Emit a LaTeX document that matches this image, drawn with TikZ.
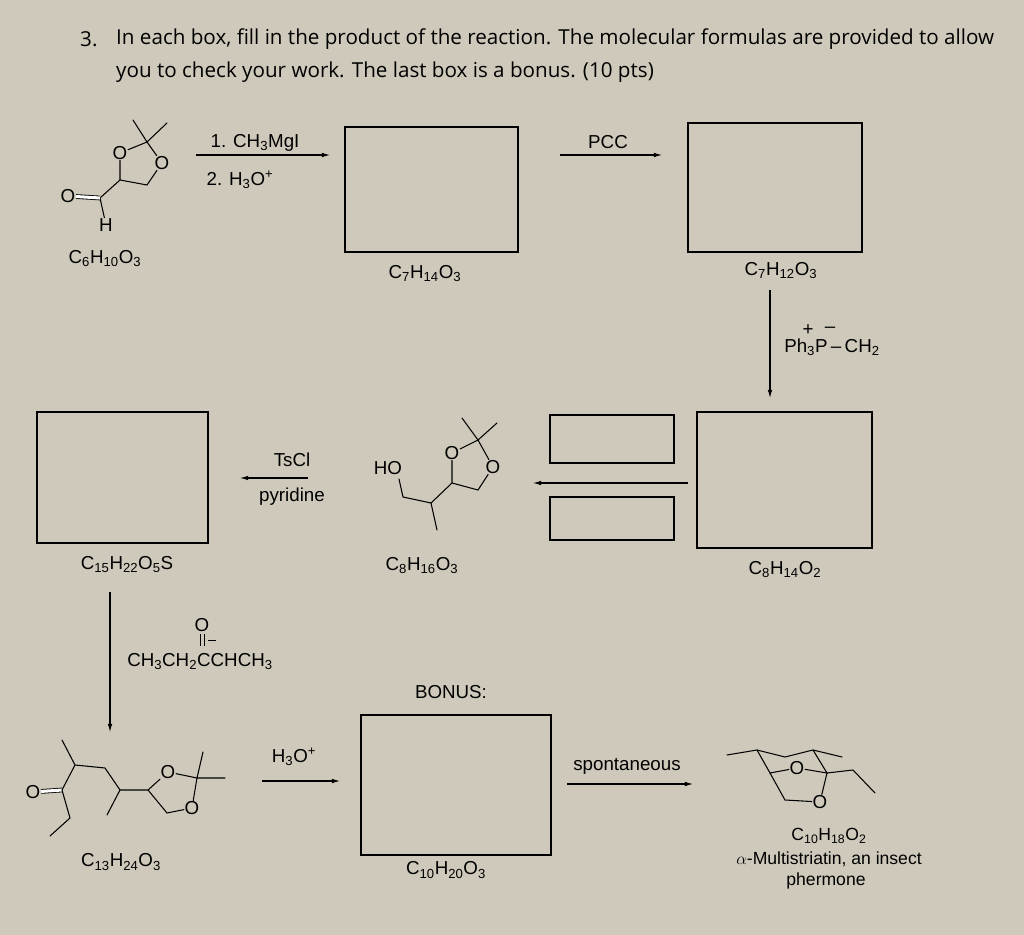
\documentclass[tikz,border=0pt]{standalone}
\usepackage{fontspec}
\usetikzlibrary{arrows.meta}
\setmainfont{Liberation Sans}
\newfontfamily\titlefont{Open Sans}
\newcommand\dn[1]{\textsubscript{#1}}
\newcommand\up[1]{\textsuperscript{#1}}
\begin{document}
\begin{tikzpicture}[x=0.03cm,y=-0.03cm,
  lab/.style={font=\fontsize{16}{19}\selectfont, inner sep=1pt},
  sm/.style={font=\fontsize{15}{17}\selectfont, inner sep=0.5pt},
  atom/.style={font=\fontsize{16}{19}\selectfont, inner sep=0.5pt},
  bond/.style={line width=0.9pt, line cap=round},
  dbl/.style={line width=0.7pt, double, double distance=2.6pt},
  box/.style={draw, line width=0.9pt},
  arr/.style={line width=0.9pt, -{Latex[length=7pt,width=4pt]}},
  ttl/.style={font=\titlefont\fontsize{17.6}{21}\selectfont, anchor=west, inner sep=0pt}]
\fill[fill={rgb,255:red,206;green,201;blue,186}] (0,0) rectangle (1024,935);
\useasboundingbox (0,0) rectangle (1024,935);
% title
\node[ttl] (t0) at (80,39) {3.};
\node[ttl] (t1) at (116,39) {In each box, fill in the product of the reaction. The molecular formulas are provided to allow};
\node[ttl] (t2) at (116,72) {you to check your work. The last box is a bonus. (10 pts)};
% boxes
\draw[box] (345,127) rectangle (518,252);
\draw[box] (688,123) rectangle (862,252);
\draw[box] (37,412) rectangle (208,543);
\draw[box] (697,412) rectangle (872,548);
\draw[box] (550,415) rectangle (674,463);
\draw[box] (550,497) rectangle (674,540);
\draw[box] (361,715) rectangle (551,855);
% molecule 1
\node[atom] (a1o1) at (120,153) {O};
\coordinate (a1q) at (147,142);
\node[atom] (a1o2) at (162,163) {O};
\coordinate (a1c5) at (147,185);
\coordinate (a1c4) at (120,180);
\coordinate (a1c) at (100,198);
\node[atom] (a1o) at (68,196) {O};
\node[atom] (a1h) at (106,225) {H};
\draw[bond] (a1o1)--(a1q)--(a1o2)--(a1c5)--(a1c4)--(a1o1);
\draw[bond] (a1q)--(133,120) (a1q)--(167,123);
\draw[bond] (a1c4)--(a1c)--(a1h);
\draw[dbl] (a1c)--(a1o);
\node[lab] (f1) at (105,259) {C\dn6H\dn{10}O\dn3};
\draw[arr] (196,155)--(330,155);
\node[lab] (r1) at (255,143) {1. CH\dn3MgI};
\node[lab] (r2) at (240,180) {2. H\dn3O\up+};
\node[lab] (f2) at (425,274) {C\dn7H\dn{14}O\dn3};
\draw[arr] (560,155)--(662,155);
\node[lab] (r3) at (608,142) {PCC};
\node[lab] (f3) at (781,271) {C\dn7H\dn{12}O\dn3};
\draw[arr] (770,290)--(770,398);
\node[lab] (r4) at (832,347) {Ph\dn3P$\,$\textendash$\,$CH\dn2};
\node[lab] (plus) at (808,330) {+};
\node[lab] (minus) at (830,330) {\textendash};
\node[lab] (f4) at (785,570) {C\dn8H\dn{14}O\dn2};
\draw[arr] (688,483)--(533,483);
% molecule 2
\node[atom] (b1ho) at (388,468) {HO};
\coordinate (b1c1) at (403,497);
\coordinate (b1c2) at (431,503);
\coordinate (b1c3) at (452,483);
\node[atom] (b1o1) at (452,453) {O};
\coordinate (b1q) at (478,440);
\node[atom] (b1o2) at (493,467) {O};
\coordinate (b1c5) at (478,490);
\draw[bond] (399,479)--(b1c1)--(b1c2)--(b1c3)--(b1o1)--(b1q)--(b1o2)--(b1c5)--(b1c3);
\draw[bond] (b1c2)--(437,530) (b1q)--(462,418) (b1q)--(497,423);
\node[lab] (f5) at (422,566) {C\dn8H\dn{16}O\dn3};
\draw[arr] (308,478)--(240,478);
\node[lab] (r5) at (292,460) {TsCl};
\node[lab] (r6) at (292,497) {pyridine};
\node[lab] (f6) at (127,565) {C\dn{15}H\dn{22}O\dn5S};
\draw[arr] (110,592)--(110,732);
\node[lab] (r7) at (200,662) {CH\dn3CH\dn2CCHCH\dn3};
\node[lab] (r7o) at (202,625) {O};
\draw[line width=0.7pt] (200,634)--(200,646) (204,634)--(204,646) (208,640)--(216,640);
% molecule 3
\node[atom] (c1o) at (33,792) {O};
\coordinate (c1c) at (62,790);
\coordinate (c1e1) at (70,818);
\coordinate (c1e2) at (50,836);
\coordinate (c1ch) at (75,765);
\coordinate (c1ch2) at (105,768);
\coordinate (c1c2) at (120,790);
\coordinate (c1r) at (148,790);
\node[atom] (c1o1) at (168,772) {O};
\coordinate (c1q) at (197,778);
\node[atom] (c1o2) at (192,808) {O};
\coordinate (c1c5) at (167,813);
\draw[dbl] (c1o)--(c1c);
\draw[bond] (c1e2)--(c1e1)--(c1c)--(c1ch)--(c1ch2)--(c1c2)--(c1r)--(c1o1)--(c1q)--(c1o2)--(c1c5)--(c1r);
\draw[bond] (c1ch)--(62,740) (c1c2)--(107,815) (c1q)--(203,752) (c1q)--(225,778);
\node[lab] (f7) at (121,862) {C\dn{13}H\dn{24}O\dn3};
\draw[arr] (262,781)--(340,781);
\node[lab] (r8) at (294,757) {H\dn3O\up+};
\node[lab] (bon) at (451,692) {BONUS:};
\node[lab] (f8) at (446,870) {C\dn{10}H\dn{20}O\dn3};
\draw[arr] (567,784)--(693,784);
\node[lab] (r9) at (627,766) {spontaneous};
% molecule 4
\coordinate (d1c1) at (757,750);
\coordinate (d1c2) at (785,757);
\coordinate (d1c3) at (813,750);
\coordinate (d1c4) at (770,773);
\node[atom] (d1o1) at (797,768) {O};
\coordinate (d1q) at (827,773);
\node[atom] (d1o2) at (820,802) {O};
\coordinate (d1c5) at (785,800);
\draw[bond] (727,755)--(d1c1)--(d1c2)--(d1c3)--(842,757);
\draw[bond] (d1c1)--(d1c4)--(d1o1)--(d1q)--(d1c3);
\draw[bond] (d1c4)--(d1c5)--(d1o2)--(d1q)--(853,770)--(875,793);
\node[sm] (f9) at (829,836) {C\dn{10}H\dn{18}O\dn2};
\node[sm] (n1) at (829,859) {$\alpha$-Multistriatin, an insect};
\node[sm] (n2) at (826,881) {phermone};
\end{tikzpicture}
\end{document}
